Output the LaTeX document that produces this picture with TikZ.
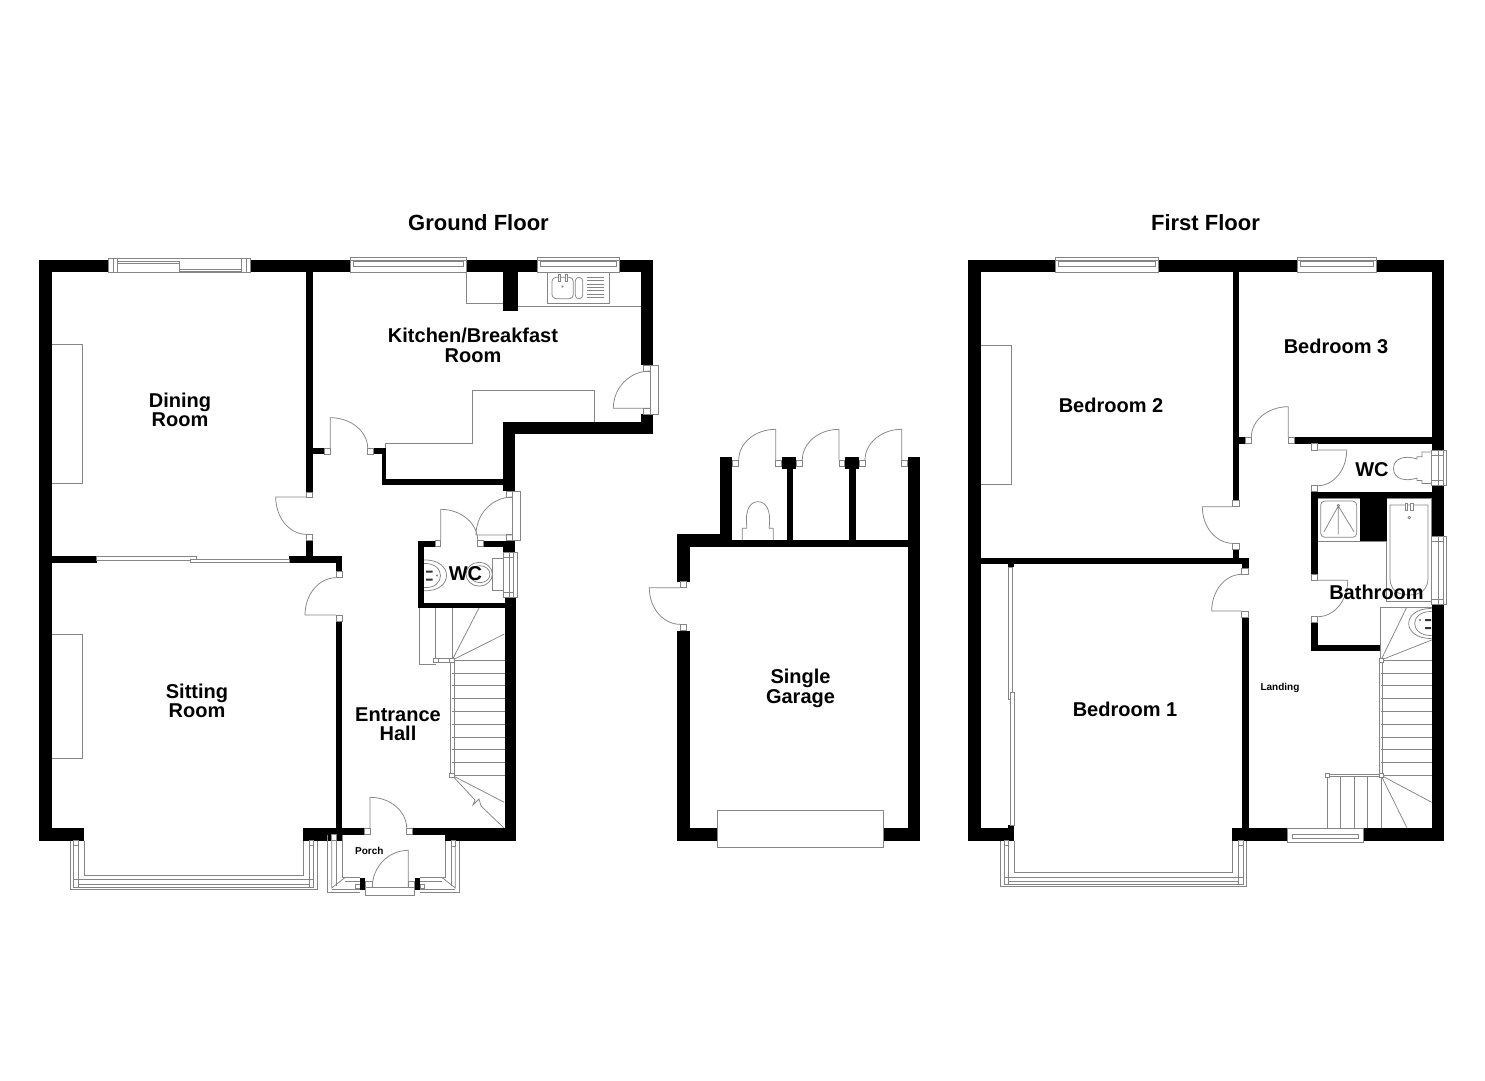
\documentclass[tikz,border=0pt]{standalone}
\usepackage{fontspec}
\setmainfont{Liberation Sans}
\tikzset{
  thin line/.style={draw=black!48,line width=0.75pt},
  lbl/.style={font=\bfseries\fontsize{20}{19.5}\selectfont,align=center,inner sep=0pt,text=black},
  ttl/.style={font=\bfseries\fontsize{22}{22}\selectfont,inner sep=0pt,text=black},
  sml/.style={font=\bfseries\fontsize{10}{10}\selectfont,inner sep=0pt,text=black}
}
\newcommand{\wallr}[4]{\fill[black] (#1,#2) rectangle (#3,#4);}
\newcommand{\jambr}[4]{\filldraw[thin line,fill=white] (#1,#2) rectangle (#3,#4);}
\newcommand{\boxr}[4]{\draw[thin line] (#1,#2) rectangle (#3,#4);}
\newcommand{\seg}[1]{\draw[thin line] #1;}
\newcommand{\doorq}[6]{%
  \pgfmathsetmacro{\cax}{#3+0.5523*(#5-#1)}\pgfmathsetmacro{\cay}{#4+0.5523*(#6-#2)}%
  \pgfmathsetmacro{\cbx}{#5+0.5523*(#3-#1)}\pgfmathsetmacro{\cby}{#6+0.5523*(#4-#2)}%
  \draw[thin line] (#1,#2) -- (#3,#4) .. controls (\cax,\cay) and (\cbx,\cby) .. (#5,#6);}
\newcommand{\hwin}[2]{%
  \pgfmathsetmacro{\wa}{#1+3}\pgfmathsetmacro{\wb}{#2-3}%
  \filldraw[thin line,fill=white] (#1,257.5) rectangle (#2,272);
  \draw[thin line] (#1,260) -- (#2,260);
  \draw[thin line] (\wa,261.5) rectangle (\wb,266);
  \draw[thin line] (\wa,260) -- (\wa,266) (\wb,260) -- (\wb,266);}
\newcommand{\vwin}[6]{%
  \filldraw[thin line,fill=white] (#1,#3) rectangle (#2,#4);
  \draw[thin line] (#5,#3) -- (#5,#4) (#6,#3) -- (#6,#4);
  \pgfmathsetmacro{\wa}{#3+5}\pgfmathsetmacro{\wb}{#4-5}%
  \draw[thin line] (#1,\wa) -- (#6,\wa) (#1,\wb) -- (#6,\wb);}
\newcommand{\bayw}[6]{% x1 x2 (wall ends), outer-left outer-right, inner bottom, outer bottom
  \pgfmathsetmacro{\la}{#3+3.5}\pgfmathsetmacro{\lb}{#3+8}\pgfmathsetmacro{\ra}{#4-3.5}\pgfmathsetmacro{\rb}{#4-8}%
  \pgfmathsetmacro{\ya}{#6-9.5}\pgfmathsetmacro{\yb}{#6-5}\pgfmathsetmacro{\yc}{#6-2}%
  \draw[thin line] (#1,840.7) -- (#1,#5) -- (#2,#5) -- (#2,840.7);
  \draw[thin line] (#3,840.7) -- (#3,#6) -- (#4,#6) -- (#4,840.7);
  \draw[thin line] (\la,840.7) -- (\la,\ya) -- (\ra,\ya) -- (\ra,840.7);
  \draw[thin line] (\lb,840.7) -- (\lb,\yb) -- (\rb,\yb) -- (\rb,840.7);
  \draw[thin line] (\la,\yc) -- (\ra,\yc);
  \pgfmathsetmacro{\pa}{\la+4.5}\pgfmathsetmacro{\pb}{\ra-4.5}\pgfmathsetmacro{\pc}{840.7+5}%
  \jambr{\la}{840.7}{\pa}{\pc}\jambr{\pb}{840.7}{\ra}{\pc}
  \jambr{\la}{\ya}{\pa}{\yc}\jambr{\pb}{\ya}{\ra}{\yc}}
\begin{document}
\begin{tikzpicture}[x=1pt,y=-1pt]
\useasboundingbox (0,0) rectangle (1485,1080);
\fill[white] (0,0) rectangle (1485,1080);
% ================= GROUND FLOOR: fittings
\boxr{51.7}{344.3}{82.3}{483.3}
\boxr{51.7}{634}{82.3}{758.3}
% kitchen worktops
\seg{(466.7,272) -- (466.7,303.3) -- (503.3,303.3)}
\seg{(517.7,306.7) -- (640.7,306.7)}
\boxr{547.3}{272}{609.3}{303.3}
\draw[thin line,rounded corners=4pt] (552,277.3) rectangle (573.3,298.7);
\draw[thin line,rounded corners=3.5pt] (575.3,277.3) rectangle (582.7,298.7);
\foreach \yy in {277.5,280.8,284.1,287.4,290.7,294,297.3} {\draw[thin line] (587.3,\yy) -- (604,\yy);}
\jambr{558.5}{274}{560.5}{281}\jambr{565.5}{274}{567.5}{281}
\filldraw[thin line] (562.5,286.5) circle (0.6pt);
% kitchen alcove worktop
\seg{(385.7,448) -- (385.7,443.3) -- (472.3,443.3) -- (472.3,390.7) -- (594.7,390.7) -- (594.7,421.7)}
% stairs ground floor
\foreach \yy in {660.3,673,685.7,698.7,711.3,724.3,737,749.7,762.7,775.3} {\draw[thin line] (452,\yy) -- (505,\yy);}
\seg{(450,660.3) -- (450,775.3) (454,660.3) -- (454,775.3)}
\seg{(452,660.3) -- (479,608) (452,660.3) -- (504.3,634)}
\seg{(419.3,608) -- (419.3,664.3) -- (435.7,664.3)}
\seg{(435.7,608) -- (435.7,660.3) (452,608) -- (452,660.3)}
\seg{(435.7,658.3) -- (452,658.3) (435.7,662.3) -- (452,662.3)}
\seg{(452,775.3) -- (504.3,802.3)}
\seg{(452,775.3) -- (475,800) -- (473,805) -- (479,799) -- (481,806) -- (504.3,828.3)}
\jambr{433.5}{658.2}{437.9}{662.6}\jambr{449.8}{658.2}{454.2}{662.6}\jambr{449.8}{773.1}{454.2}{777.5}
% WC ground fittings
\draw[thin line] (424,560) .. controls (454,559) and (454,592) .. (424,590.7);
\draw[thin line] (424,563.5) .. controls (446,562.5) and (446,589) .. (424,587.5);
\fill[black!80] (426,570.5) rectangle (432.5,572.5) (426,578.5) rectangle (432.5,580.5);
\filldraw[thin line] (437,575.5) circle (0.6pt);
\boxr{492.3}{558.7}{503.3}{590}
\draw[thin line] (479.2,574.2) ellipse [x radius=13.2,y radius=11.9];
\draw[thin line] (480,574.2) ellipse [x radius=10,y radius=8.5];
% ================= GROUND FLOOR: walls
\wallr{39.3}{260}{51.7}{840.7}
\wallr{39.3}{260}{108}{272.3}
\wallr{250}{260}{350}{272.3}
\wallr{466}{260}{537.3}{272.3}
\wallr{619.3}{260}{653.3}{272.3}
\wallr{503.3}{260}{517.7}{310.7}
\wallr{640.7}{260}{653.3}{365}
\wallr{640.7}{414}{653.3}{434}
\wallr{503.3}{421.7}{653.3}{434}
\wallr{503.3}{421.7}{515.3}{491}
\wallr{381.7}{478.7}{503.3}{485}
\wallr{381.7}{448.3}{385.7}{485}
\wallr{373}{448.3}{385.7}{454.3}
\wallr{306.3}{260}{312.7}{492}
\wallr{312.7}{448.3}{324.3}{454.3}
\wallr{306.3}{540}{312.7}{557}
\wallr{51.7}{556.3}{96.7}{562.7}
\wallr{289.3}{556.3}{342.3}{562.7}
\wallr{336}{556.3}{342.3}{571.7}
\wallr{336}{621}{342.3}{834}
\wallr{39.3}{828.3}{84}{840.7}
\wallr{302.7}{828.3}{342.3}{840.7}
\wallr{327.7}{828.3}{364}{834.7}
\wallr{412.7}{828.3}{445}{834.7}
\wallr{445}{828.3}{515.7}{840.7}
\wallr{418.3}{540.7}{424}{608.3}
\wallr{418.3}{540.7}{435}{546.7}
\wallr{483.3}{540.7}{515.3}{546.7}
\wallr{503.3}{540.7}{515.3}{552}
\wallr{505}{597}{515.7}{840.7}
\wallr{418.3}{603.3}{505}{608.3}
% windows ground
\hwin{350}{466}\hwin{537.3}{619.3}
\filldraw[thin line,fill=white] (108,258.5) rectangle (250,272);
\seg{(113,259) -- (113,272) (117.3,259) -- (117.3,272) (241.7,259) -- (241.7,272) (246,259) -- (246,272)}
\seg{(117.3,261) -- (179.3,261) (117.3,263) -- (179.3,263) (179.3,261) -- (179.3,271.5) (179.3,269) -- (241.7,269) (179.3,271.5) -- (241.7,271.5)}
% sliding doors
\jambr{96.7}{556.7}{196}{560.5}
\jambr{190}{559.5}{289.3}{562.7}
% jambs
\jambr{306.3}{492}{312.7}{497}\jambr{306.3}{534.3}{312.7}{540}
\jambr{324.3}{448.3}{330.3}{454.3}\jambr{367.7}{448.3}{373}{454.3}
\jambr{336}{571.7}{342.3}{577.7}\jambr{336}{615}{342.3}{621}
\jambr{643.3}{365}{650}{371}\jambr{643.3}{408.3}{650}{414}
\jambr{650}{365}{658}{414}
\jambr{506.7}{491}{512.3}{497}\jambr{506.7}{534.5}{512.3}{540.7}
\jambr{512.3}{491}{520.7}{540}
\jambr{435}{540.7}{440.7}{546.7}\jambr{477.7}{540.7}{483.3}{546.7}
\jambr{364}{828.3}{370}{834.7}\jambr{406.7}{828.3}{412.7}{834.7}
\vwin{503.3}{517.3}{552}{597}{509}{513}
% doors
\doorq{306.3}{497}{275.7}{497}{306.3}{534.3}
\doorq{336}{615}{305}{615}{336}{577.7}
\doorq{330.3}{448.3}{330.3}{417.7}{367.7}{448.3}
\doorq{650}{408.3}{613.3}{408.3}{650}{371}
\doorq{512.3}{535}{476}{535}{512.3}{497}
\doorq{440.7}{540.7}{440.7}{509.3}{477.7}{540.7}
\doorq{370}{828.3}{370}{797.3}{406.7}{828.3}
% bay sitting
\bayw{84}{303.3}{70}{317.3}{875}{889.3}
% porch
\seg{(327.7,834.7) -- (327.7,892.7) -- (360,892.7)}
\seg{(331.7,834.7) -- (331.7,888) -- (345,877.5)}
\seg{(336,834.7) -- (336,886) (345,881) -- (360,881)}
\seg{(342.3,834.7) -- (342.3,877.3) -- (360,877.3) (331.7,889.5) -- (360,889.5)}
\seg{(459.3,840.7) -- (459.3,892.7) -- (420,892.7)}
\seg{(455.3,840.7) -- (455.3,888) -- (442,877.5)}
\seg{(451,840.7) -- (451,886) (442,881) -- (420,881)}
\seg{(445,840.7) -- (445,877.3) -- (420,877.3) (455.3,889.5) -- (420,889.5)}
\jambr{331.7}{834.7}{336}{840}\jambr{451}{840.7}{455.3}{846}
\jambr{355.5}{884}{360}{888}\jambr{420}{884}{424.5}{888}
\wallr{360}{878}{365.3}{890}\wallr{414.7}{878}{420}{890}
\jambr{365.3}{881.7}{372}{887.3}\jambr{408.3}{881.7}{414.7}{887.3}
\jambr{365.3}{887.3}{414.7}{895.3}
\doorq{408.3}{887.3}{408.3}{850.3}{372.3}{887.3}
% ================= GARAGE
\wallr{720}{457.3}{732.3}{546.7}
\wallr{781.7}{457.3}{796}{469.3}\wallr{786.7}{457.3}{793.3}{546.7}
\wallr{844.7}{457.3}{859}{469.3}\wallr{849.3}{457.3}{855.7}{546.7}
\wallr{907.7}{457.3}{920.3}{840.7}
\wallr{677.3}{533.7}{720}{546.7}\wallr{677.3}{540}{920}{546.7}
\wallr{677.3}{533.7}{690}{581.7}
\wallr{677.3}{630.7}{690}{840.7}
\wallr{677.3}{828.3}{717}{840.7}\wallr{883}{828.3}{920.3}{840.7}
\jambr{717}{810}{883}{847}
\jambr{732.3}{460}{738.7}{466}\jambr{775.7}{460}{781.7}{466}
\jambr{796}{460}{802.3}{466}\jambr{839}{460}{844.7}{466}
\jambr{859}{460}{865}{466}\jambr{901.7}{460}{907.7}{466}
\jambr{680}{581.7}{686.7}{587.7}\jambr{680}{624.3}{686.7}{630.7}
\doorq{775.7}{460}{775.7}{429.3}{738.7}{460}
\doorq{839}{460}{839}{429.3}{802.3}{460}
\doorq{901.7}{460}{901.7}{429.3}{865}{460}
\doorq{680}{587.7}{649.3}{587.7}{680}{624.3}
\seg{(742.3,540) -- (742.3,528.3) -- (746.7,528.3) -- (746.7,525.5) .. controls (745,510) and (750,501.7) .. (758,501.7) .. controls (766,501.7) and (771,510) .. (769.3,525.5) -- (769.3,528.3) -- (773.3,528.3) -- (773.3,540)}
% ================= FIRST FLOOR: fittings
\boxr{980.7}{345}{1011.3}{484}
% shower
\boxr{1317.7}{498}{1360}{541}
\seg{(1317.7,541) -- (1386.7,541)}
\draw[thin line,rounded corners=4pt] (1320.7,501) rectangle (1356.7,537.3);
\seg{(1338.3,506) -- (1324,531.7) (1338.3,506) -- (1338.3,534.3) (1338.3,506) -- (1354,531.7)}
\draw[thin line] (1338.3,505.5) circle (1.2pt);
% bath
\boxr{1386.7}{498}{1431.7}{601}
\draw[thin line] (1390,505) -- (1428,505) -- (1428,578) .. controls (1428,590) and (1420,595) .. (1409,595) .. controls (1398,595) and (1390,590) .. (1390,578) -- cycle;
\jambr{1405}{503}{1407.5}{510}\jambr{1410.5}{503}{1413}{510}
\draw[thin line] (1409.3,517.5) circle (1.3pt);
% basin
\seg{(1380,660) -- (1380,607.3) -- (1431.7,607.3)}
\draw[thin line] (1431.7,608.5) .. controls (1401,608) and (1401,639) .. (1431.7,638.5);
\draw[thin line] (1431.7,611.5) .. controls (1409,611) and (1409,636) .. (1431.7,635.5);
\fill[black!80] (1425,619) rectangle (1431,621) (1425,627) rectangle (1431,629);
\filldraw[thin line] (1420,620) circle (0.6pt);
\seg{(1381,660) -- (1406.7,607.3) (1381,660) -- (1431.7,640)}
% stairs first floor
\foreach \yy in {660,673,685.7,698.7,711.3,724.3,737,749.7,762.3,775.3} {\draw[thin line] (1381,\yy) -- (1431.7,\yy);}
\seg{(1379,660) -- (1379,775.3) (1382.3,660) -- (1382.3,775.3)}
\seg{(1327.3,774) -- (1381,774) (1327.3,776.7) -- (1381,776.7)}
\foreach \xx in {1327.3,1340.7,1354.3,1367.7,1381} {\draw[thin line] (\xx,776) -- (\xx,828.5);}
\seg{(1381,775.3) -- (1431.7,802.3) (1381,775.3) -- (1407.3,828.5)}
\jambr{1379}{658}{1383}{662}\jambr{1379}{773.3}{1383}{777.3}\jambr{1325.3}{773.3}{1329.3}{777.3}
% WC first fittings
\seg{(1431.7,452) -- (1422,452) -- (1422,456.7) -- (1417,456.7) -- (1417,459) .. controls (1405,455) and (1393.5,458) .. (1393.5,468.5) .. controls (1393.5,479) and (1405,482) .. (1417,478) -- (1417,480.5) -- (1422,480.5) -- (1422,483.5) -- (1431.7,483.5)}
% ================= FIRST FLOOR: walls
\wallr{968}{260}{980.7}{840.7}
\wallr{968}{260}{1055}{272.3}
\wallr{1158}{260}{1297}{272.3}
\wallr{1376}{260}{1444}{272.3}
\wallr{1431.7}{260}{1444}{450}
\wallr{1431.7}{485.7}{1444}{536.7}
\wallr{1431.7}{604}{1444}{840.7}
\wallr{1232.7}{260}{1239.3}{500.7}
\wallr{1239.3}{437.3}{1245.7}{443.7}
\wallr{1294.3}{437.3}{1431.7}{443.7}
\wallr{1232.7}{549.3}{1239.3}{564}
\wallr{980.7}{557.7}{1248.5}{564}
\wallr{1241.7}{557.7}{1248.5}{568.3}
\wallr{1242.3}{617.3}{1248.7}{840.7}
\wallr{968}{828.3}{1014}{840.7}
\wallr{1232.3}{828.3}{1287.3}{840.7}
\wallr{1363.3}{828.3}{1444}{840.7}
\wallr{1311}{491.7}{1431.7}{498}
\wallr{1311}{491.7}{1317.7}{574.3}
\wallr{1311}{622.7}{1317.7}{650.7}
\wallr{1311}{645}{1380}{650.7}
\wallr{1360}{498}{1386.7}{541}
\wallr{1008.3}{564}{1014}{567.3}
\wallr{1008.3}{825}{1014}{828.3}
% sliding wardrobe
\jambr{1008.3}{567.3}{1012.3}{699}
\jambr{1010}{692.7}{1014}{825}
% windows first
\hwin{1055}{1158}\hwin{1297}{1376}
\jambr{1287.3}{828.3}{1363.3}{842}
\jambr{1292}{834}{1358.7}{838}
\vwin{1431.7}{1446.7}{450}{485.7}{1438}{1443}
\vwin{1431.7}{1446.7}{536.7}{604}{1438}{1443}
\bayw{1014}{1232.7}{1000.7}{1246.7}{872}{886.7}
% jambs
\jambr{1232.7}{500.7}{1239.3}{506.7}\jambr{1232.7}{543.3}{1239.3}{549.3}
\jambr{1241.7}{568.3}{1248.5}{574.3}\jambr{1241.7}{611}{1248.5}{617.3}
\jambr{1245.7}{437.3}{1251.3}{443.7}\jambr{1288.3}{437.3}{1294.3}{443.7}
\jambr{1311}{443.7}{1317.7}{450}\jambr{1311}{485.7}{1317.7}{491.7}
\jambr{1311}{574.3}{1317.7}{580.3}\jambr{1311}{616.7}{1317.7}{622.7}
% doors
\doorq{1232.7}{506.7}{1202.3}{506.7}{1232.7}{543.3}
\doorq{1241.7}{611}{1211.7}{611}{1241.7}{574.3}
\doorq{1288.3}{437.3}{1288.3}{406.7}{1251.3}{437.3}
\doorq{1317.7}{450}{1346.7}{450}{1317.7}{485.7}
\doorq{1317.7}{580.3}{1347.7}{580.3}{1317.7}{616.7}
% ================= LABELS
\node[ttl] (gf) at (478.5,222.7) {Ground Floor};
\node[ttl] (ff) at (1205.5,222.7) {First Floor};
\node[lbl] (dining) at (180,410) {Dining\\Room};
\node[lbl] (kitchen) at (473,345.5) {Kitchen/Breakfast\\Room};
\node[lbl] (sitting) at (197,701) {Sitting\\Room};
\node[lbl] (hall) at (398,724) {Entrance\\Hall};
\node[lbl] (wca) at (465.5,573.8) {WC};
\node[sml] (porch) at (369.3,851) {Porch};
\node[lbl] (garage) at (800.5,688.5) {Single\\Garage};
\node[lbl] (bed2) at (1111,405.5) {Bedroom 2};
\node[lbl] (bed1) at (1125,709.5) {Bedroom 1};
\node[lbl] (bed3) at (1336,346) {Bedroom 3};
\node[lbl] (wcb) at (1372,470) {WC};
\node[lbl] (bath) at (1376.5,592.5) {Bathroom};
\node[sml] (landing) at (1280,687.5) {Landing};
\end{tikzpicture}
\end{document}
